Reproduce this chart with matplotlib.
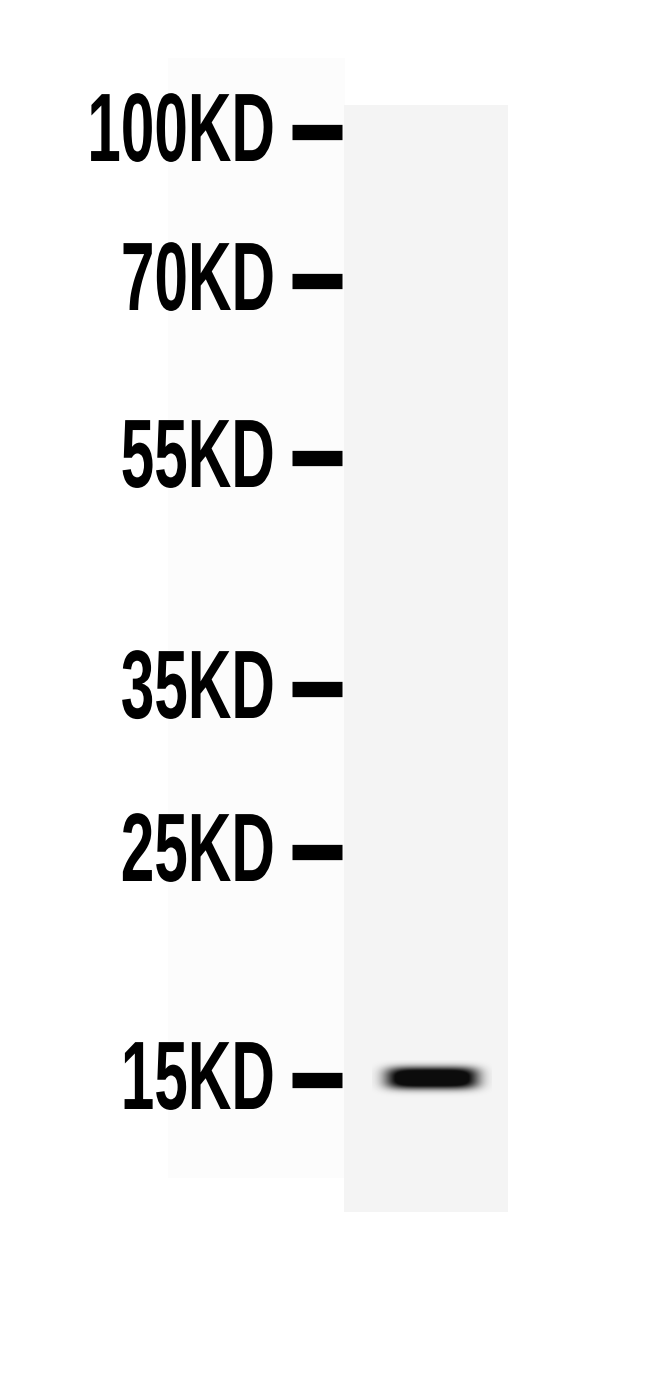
import numpy as np
import matplotlib
matplotlib.use("Agg")
import matplotlib.pyplot as plt
import matplotlib.patheffects as pe
from matplotlib.patches import Rectangle
from matplotlib.transforms import Affine2D

# marker ladder (label, migration distance in px from top of image)
marker_labels = ["100KD", "70KD", "55KD", "35KD", "25KD", "15KD"]
marker_kd = [100, 70, 55, 35, 25, 15]
marker_rows = [132, 281, 458, 689, 852, 1080]

# detected band in the sample lane
band_kd = [15]
band_intensity = [1.0]

W, H = 650, 1392
SQUEEZE = 0.62


class Squeeze(pe.AbstractPathEffect):
    """narrow the glyphs horizontally around a pivot (display px)"""

    def __init__(self, sx, x0):
        super().__init__()
        self.sx = sx
        self.x0 = x0

    def draw_path(self, renderer, gc, tpath, affine, rgbFace=None):
        t = affine + Affine2D().translate(-self.x0, 0).scale(self.sx, 1).translate(self.x0, 0)
        renderer.draw_path(gc, tpath, t, rgbFace)


fig = plt.figure(figsize=(W / 100, H / 100), dpi=100)
ax = fig.add_axes([0, 0, 1, 1])
ax.set_xlim(0, W)
ax.set_ylim(H, 0)
ax.axis("off")

# faint membrane edge behind the ladder
ax.add_patch(Rectangle((168, 58), 177, 1120, facecolor="#fcfcfc", edgecolor="none"))
# sample lane
ax.add_patch(Rectangle((344, 105), 164, 1107, facecolor="#f4f4f4", edgecolor="none"))

# marker dashes + labels
ax.hlines(marker_rows, 292, 342, colors="black", linewidth=11, capstyle="butt")
right_x = 275
renderer = fig.canvas.get_renderer()
for lab, row in zip(marker_labels, marker_rows):
    t = ax.text(right_x, row + 29, lab, ha="right", va="baseline",
                fontsize=70, fontweight="bold", family=["Liberation Sans", "DejaVu Sans"],
                color="black")
    w = t.get_window_extent(renderer).width
    # anchor on the left so the narrowed label still ends at right_x
    left_x = right_x - SQUEEZE * w
    t.set_ha("left")
    t.set_x(left_x)
    t.set_path_effects([Squeeze(SQUEEZE, left_x)])

# band(s): blurred dark smear at the marker row of matching size
for kd, inten in zip(band_kd, band_intensity):
    row = np.interp(kd, marker_kd[::-1], marker_rows[::-1])
    xc, wx, wy = 432, 46, 11
    xs = np.linspace(xc - 60, xc + 60, 240)
    ys = np.linspace(row - 20, row + 20, 80)
    X, Y = np.meshgrid(xs, ys)
    a = np.exp(-np.abs((X - xc) / wx) ** 5 - np.abs((Y - row + 2) / wy) ** 3)
    img = np.zeros(a.shape + (4,))
    img[..., :3] = 0.05
    img[..., 3] = np.clip(a * 1.4 * inten, 0, 1)
    ax.imshow(img, extent=(xs[0], xs[-1], ys[-1], ys[0]), interpolation="bilinear",
              aspect="auto", zorder=3)

ax.set_xlim(0, W)
ax.set_ylim(H, 0)
fig.savefig("out.png", dpi=100)
